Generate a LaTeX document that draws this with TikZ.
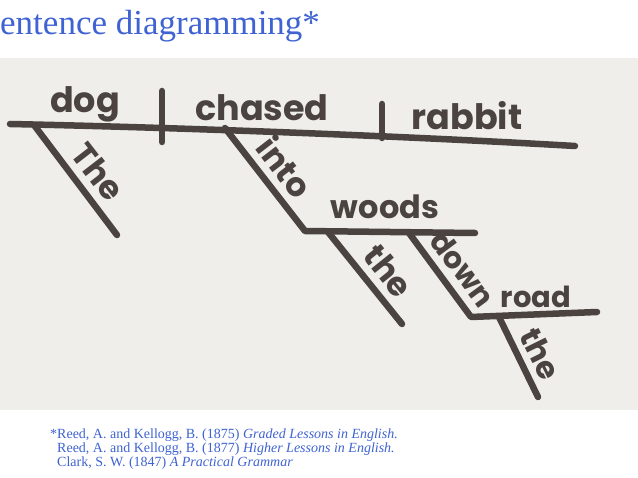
\documentclass[tikz,border=0pt]{standalone}
\usepackage{fontspec}
\setmainfont{Liberation Serif}
\newfontfamily\hand{Poppins}
\definecolor{ink}{HTML}{4A4340}
\definecolor{slideblue}{HTML}{3F63D3}
\definecolor{paper}{HTML}{EFEEEA}
\begin{document}
\begin{tikzpicture}[x=1pt,y=-1pt, line cap=round, line join=round,
  rule/.style={draw=ink, line width=6.5pt},
  word/.style={font=\hand\bfseries\fontsize{35}{35}\selectfont, text=ink, inner sep=0pt, anchor=base},
  slantword/.style={word, font=\hand\bfseries\fontsize{33}{33}\selectfont},
  cite/.style={font=\fontsize{14}{16}\selectfont, text=slideblue, anchor=base west, inner sep=0pt}]
\useasboundingbox (0,0) rectangle (638,478);
\fill[white] (0,0) rectangle (638,478);
\fill[paper] (0,58) rectangle (638,410);
% title
\node[anchor=base west, inner sep=0pt, text=slideblue, font=\fontsize{35}{35}\selectfont] (title) at (0,35) {entence diagramming*};
% coordinates
\coordinate (mL) at (10,124);
\coordinate (mR) at (575,146);
\coordinate (d1t) at (162,91);
\coordinate (d1b) at (162,142);
\coordinate (d2t) at (382,104);
\coordinate (d2b) at (382,138);
\coordinate (theT) at (34,125);
\coordinate (theB) at (117,235);
\coordinate (intoT) at (225,128);
\coordinate (woodsL) at (305,231);
\coordinate (woodsR) at (475,233);
\coordinate (the2T) at (328,232);
\coordinate (the2B) at (402,324);
\coordinate (downT) at (409,233);
\coordinate (roadL) at (471,317);
\coordinate (roadR) at (597,312);
\coordinate (the3T) at (499,317);
\coordinate (the3B) at (538,397);
% lines
\draw[rule] (mL) .. controls (200,128) and (420,137) .. (mR);
\draw[rule] (d1t) -- (d1b);
\draw[rule] (d2t) -- (d2b);
\draw[rule] (theT) -- (theB);
\draw[rule] (intoT) -- (woodsL) -- (woodsR);
\draw[rule] (the2T) -- (the2B);
\draw[rule] (downT) -- (roadL) -- (roadR);
\draw[rule] (the3T) -- (the3B);
% words
\node[word] (dog) at (85,113) {dog};
\node[word] (chased) at (262,121) {chased};
\node[word] (rabbit) at (467,130) {rabbit};
\node[word, font=\hand\bfseries\fontsize{32}{32}\selectfont] (woods) at (385,219) {woods};
\node[word, font=\hand\bfseries\fontsize{29}{29}\selectfont] (road) at (536,308) {road};
\node[slantword, rotate=-52.3] (The) at (88.6,179.4) {The};
\node[slantword, rotate=-52.4] (into) at (274.7,174.9) {into};
\node[slantword, rotate=-51.2] (the1) at (379.2,278.4) {the};
\node[slantword, rotate=-53.5, font=\hand\bfseries\fontsize{30}{30}\selectfont] (down) at (454.2,275.5) {down};
\node[slantword, rotate=-63.7, font=\hand\bfseries\fontsize{31}{31}\selectfont] (the3) at (530.4,358.9) {the};
% citations
\node[cite] (c1) at (50,439) {*Reed, A. and Kellogg, B. (1875) \textit{Graded Lessons in English.}};
\node[cite] (c2) at (57,453) {Reed, A. and Kellogg, B. (1877) \textit{Higher Lessons in English.}};
\node[cite] (c3) at (57,467) {Clark, S. W. (1847) \textit{A Practical Grammar}};
\end{tikzpicture}
\end{document}
